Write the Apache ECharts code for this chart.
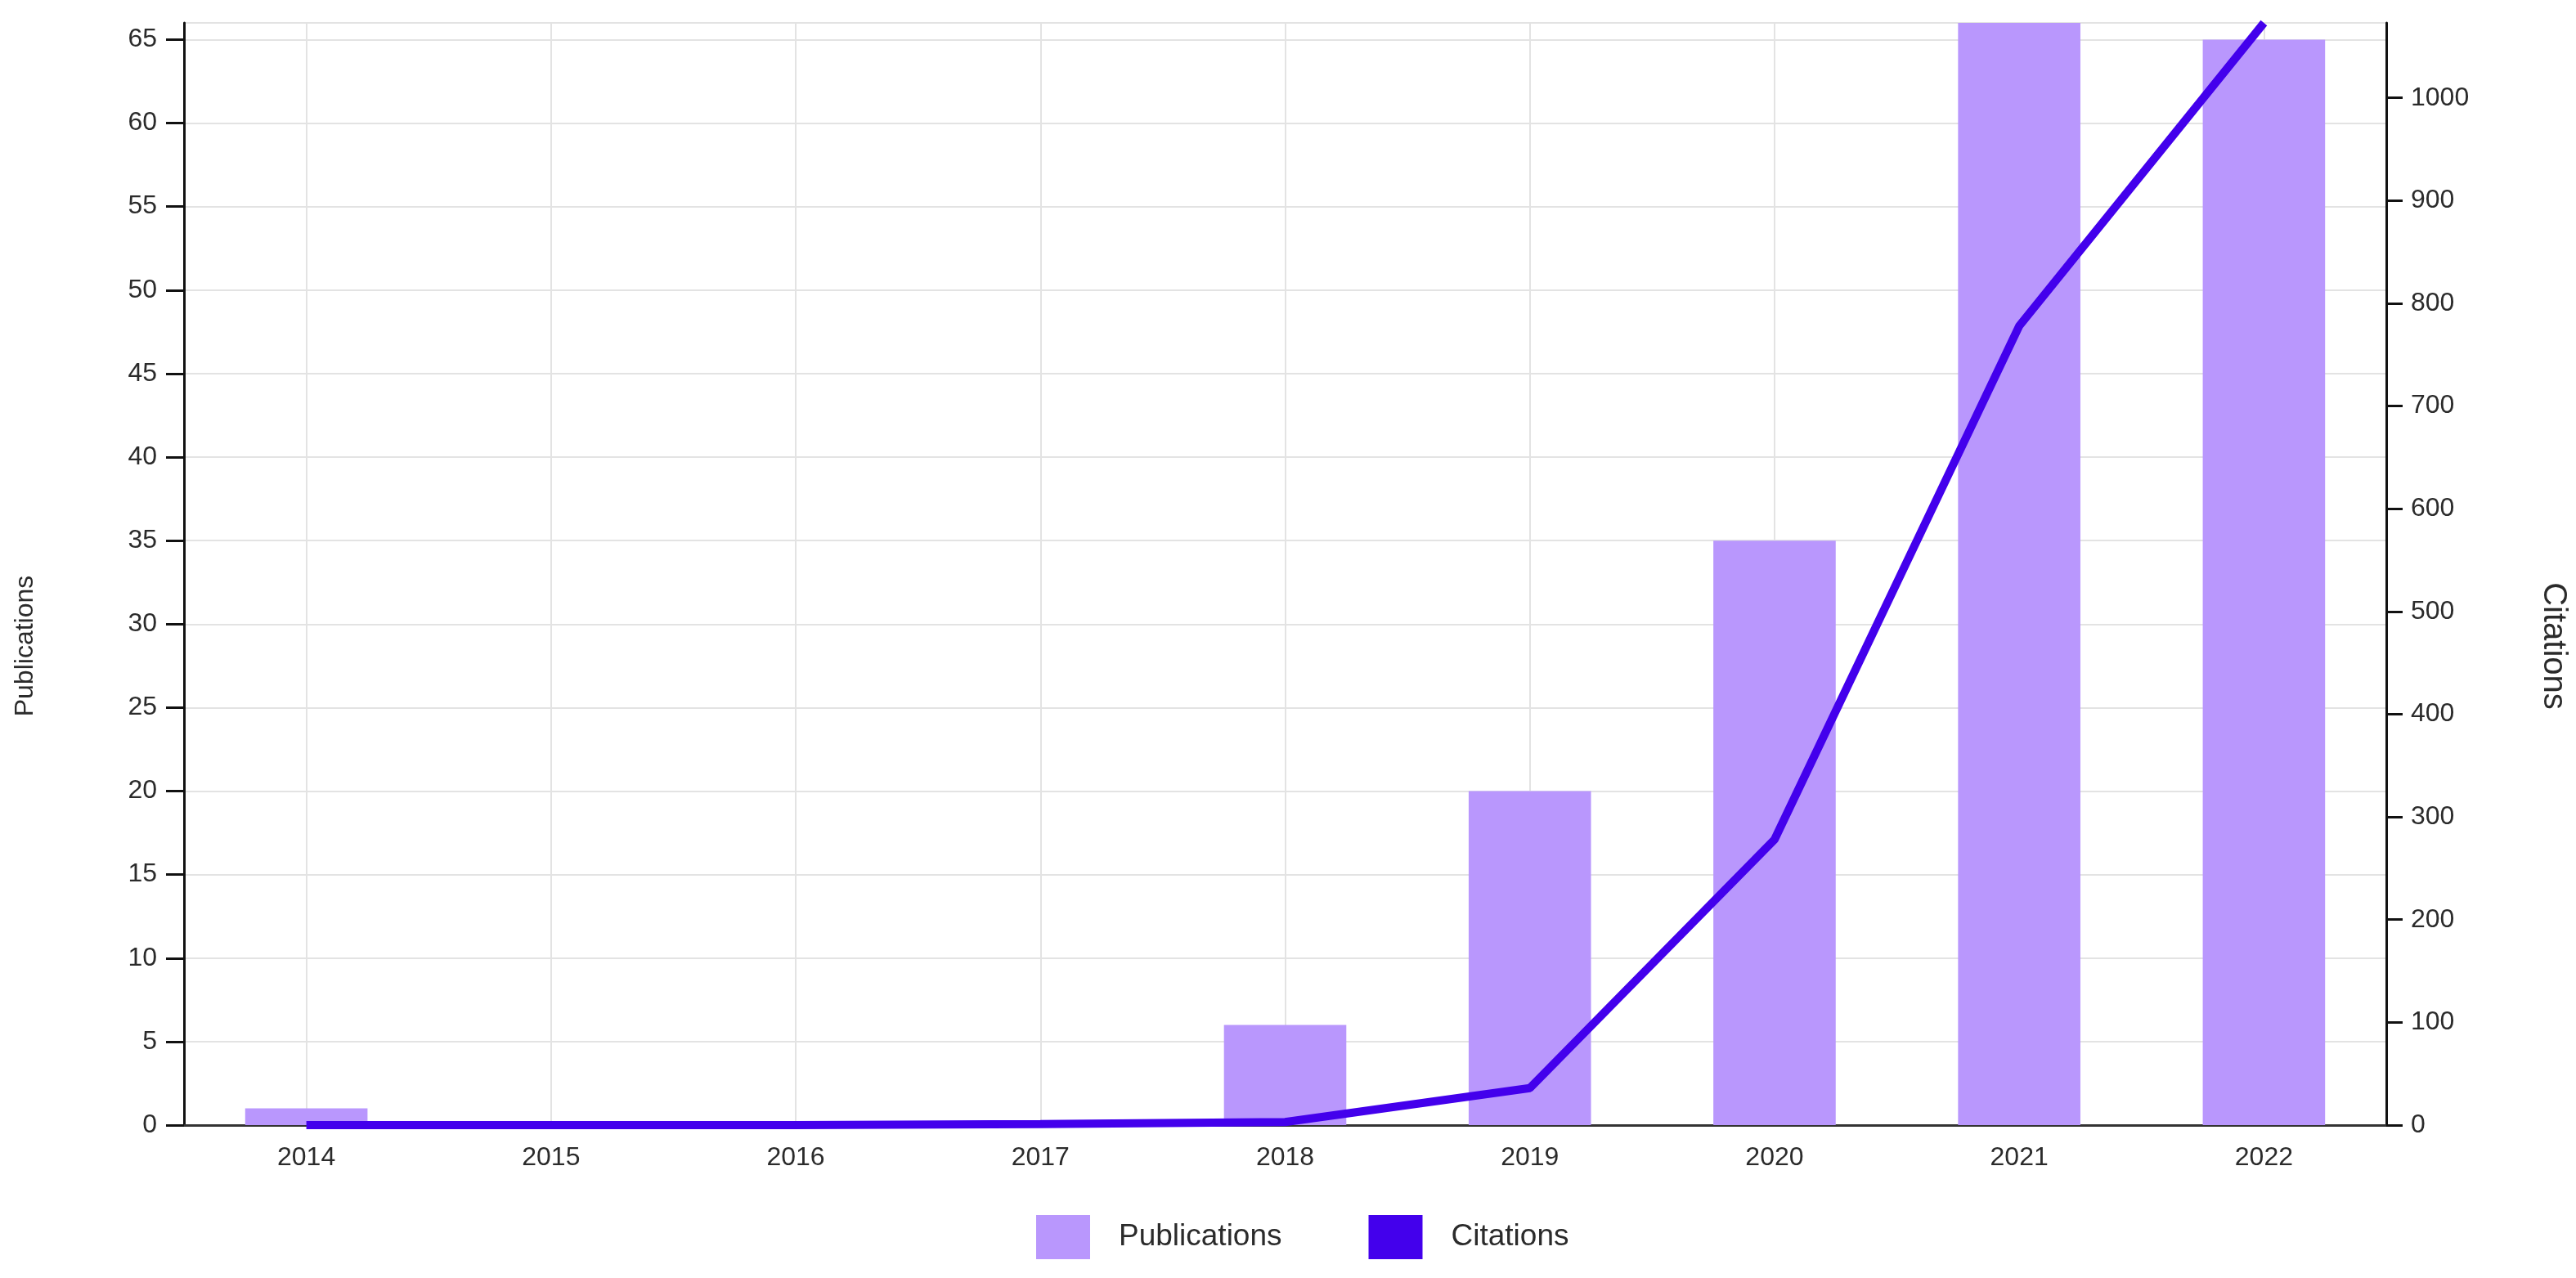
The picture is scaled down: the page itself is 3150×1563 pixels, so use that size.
<!DOCTYPE html>
<html>
<head>
<meta charset="utf-8">
<script src="https://cdn.jsdelivr.net/npm/echarts@6/dist/echarts.min.js"></script>
<style>
html,body{margin:0;padding:0;background:#fff;}
#chart{width:3150px;height:1563px;}
</style>
</head>
<body>
<div id="chart"></div>
<script>
const years = ['2014','2015','2016','2017','2018','2019','2020','2021','2022'];
const publications = [1, 0, 0, 0, 6, 20, 35, 66, 65];
const citations = [0, 0, 0, 1, 3, 36, 278, 778, 1073];

const FONT = '"Liberation Sans", Arial, sans-serif';
const TXT = '#2b2b2b';
const chart = echarts.init(document.getElementById('chart'));
chart.setOption({
  backgroundColor: '#fff',
  animation: false,
  textStyle: { fontFamily: FONT },
  grid: { left: 225, right: 230, top: 28, bottom: 187 },
  legend: {
    bottom: 18,
    left: 1262,
    itemWidth: 66,
    itemHeight: 54,
    itemGap: 106,
    textStyle: { fontSize: 37, color: TXT, fontFamily: FONT, padding: [0, 0, 0, 30] },
    data: [
      { name: 'Publications', icon: 'rect' },
      { name: 'Citations', icon: 'rect' }
    ]
  },
  xAxis: [{
    type: 'category',
    data: years,
    boundaryGap: true,
    axisLine: { lineStyle: { color: '#111', width: 3 } },
    axisTick: { alignWithLabel: true, length: 16, lineStyle: { color: '#111', width: 3 } },
    axisLabel: { fontSize: 32, color: TXT, margin: 24 },
    splitLine: { show: true, alignWithLabel: true, lineStyle: { color: '#e3e3e3', width: 2 } }
  }, {
    type: 'category',
    data: years,
    position: 'top',
    axisLine: { show: true, lineStyle: { color: '#333', width: 3 } },
    axisTick: { show: false },
    axisLabel: { show: false },
    splitLine: { show: false }
  }],
  yAxis: [{
    type: 'value',
    min: 0,
    max: 66,
    interval: 5,
    name: 'Publications',
    nameLocation: 'middle',
    nameGap: 178,
    nameRotate: 90,
    nameTextStyle: { fontSize: 32, color: TXT, padding: [0, 176, 0, 0] },
    axisLine: { show: true, lineStyle: { color: '#111', width: 3 } },
    axisTick: { show: true, length: 22, lineStyle: { color: '#111', width: 3 } },
    axisLabel: { fontSize: 32, color: TXT, margin: 33, showMaxLabel: false },
    splitLine: { show: true, lineStyle: { color: '#e3e3e3', width: 2 } }
  }, {
    type: 'value',
    min: 0,
    max: 1073,
    interval: 100,
    position: 'right',
    name: 'Citations',
    nameLocation: 'middle',
    nameGap: 184,
    nameRotate: -90,
    nameTextStyle: { fontSize: 40, color: TXT, padding: [0, 0, 0, 176] },
    axisLine: { show: true, lineStyle: { color: '#111', width: 3 } },
    axisTick: { show: true, length: 20, lineStyle: { color: '#111', width: 3 } },
    axisLabel: { fontSize: 32, color: TXT, margin: 30, showMaxLabel: false,
      formatter: function (v) { return String(v); } },
    splitLine: { show: false }
  }],
  series: [{
    name: 'Publications',
    type: 'bar',
    data: publications,
    barWidth: '50%',
    itemStyle: { color: '#b997fd' },
    yAxisIndex: 0
  }, {
    name: 'Citations',
    type: 'line',
    data: citations,
    yAxisIndex: 1,
    symbol: 'none',
    itemStyle: { color: '#4300ec' },
    lineStyle: { color: '#4300ec', width: 10 }
  }]
});
</script>
</body>
</html>
